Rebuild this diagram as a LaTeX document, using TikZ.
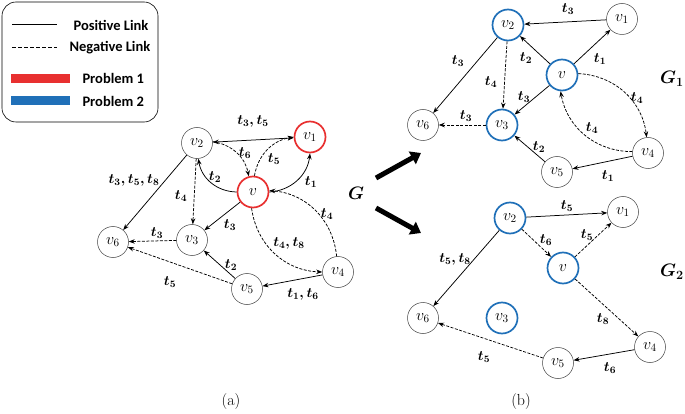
\RequirePackage{fix-cm}
\documentclass[tikz,border=0pt]{standalone}
\usepackage{fontspec}
\setsansfont{Carlito}
\usepackage{amsmath}
\usetikzlibrary{arrows.meta}
\definecolor{pred}{RGB}{232,48,48}
\definecolor{pblue}{RGB}{32,112,184}
\begin{document}
\begin{tikzpicture}[x=1pt,y=-1pt,
  vx/.style={circle,draw=black!75,line width=0.5pt,minimum size=31pt,inner sep=0pt,font=\fontsize{16}{18}\selectfont},
  vred/.style={vx,draw=pred,line width=1.7pt},
  vblue/.style={vx,draw=pblue,line width=1.7pt},
  plink/.style={line width=0.75pt,-{Stealth[length=6pt,width=4.5pt]}},
  nlink/.style={line width=0.75pt,dash pattern=on 3pt off 1.5pt,-{Stealth[length=6pt,width=4.5pt]}},
  lab/.style={font=\fontsize{14}{16}\selectfont\boldmath,inner sep=1pt},
  leg/.style={font=\sffamily\bfseries\fontsize{14.5}{16}\selectfont,anchor=west},
  big/.style={line width=5pt,-{Triangle[length=10pt,width=14pt]}}
]
\useasboundingbox (0,0) rectangle (685,414);
% legend
\draw[rounded corners=14pt,line width=0.6pt] (2,2) rectangle (158,122);
\coordinate (la1) at (12,25); \coordinate (lb1) at (57,25);
\draw[line width=1pt] (la1) -- (lb1);
\node[leg] (lt1) at (70,25) {Positive Link};
\coordinate (la2) at (12,48); \coordinate (lb2) at (57,48);
\draw[line width=1pt,dash pattern=on 4pt off 2pt] (la2) -- (lb2);
\node[leg] (lt2) at (66,48) {Negative Link};
\fill[pred] (11,74) rectangle (70,83);
\node[leg] (lt3) at (79,78) {Problem 1};
\fill[pblue] (11,96) rectangle (70,105);
\node[leg] (lt4) at (79,101) {Problem 2};

% panel (a)
\node[vx]   (a2) at (197,143) {$v_2$};
\node[vred] (a1) at (310,137) {$v_1$};
\node[vred] (av) at (253,192) {$v$};
\node[vx]   (a6) at (113,242) {$v_6$};
\node[vx]   (a3) at (192,240) {$v_3$};
\node[vx]   (a5) at (247,289) {$v_5$};
\node[vx]   (a4) at (338,272) {$v_4$};
\draw[line width=0.75pt,{Stealth[length=6pt,width=4.5pt]}-{Stealth[length=6pt,width=4.5pt]}] (a2) -- (a1);
\draw[nlink] (a2.5) to[bend left=35] (av.105);
\draw[nlink] (av.85) to[bend left=35] (a1.180);
\draw[plink] (av.0) to[bend right=40] (a1.270);
\draw[plink] (av.180) to[bend left=40] (a2.275);
\draw[nlink] (a2) -- (a3);
\draw[plink] (a2) -- (a6);
\draw[plink] (av) -- (a3);
\draw[nlink] (a3) -- (a6);
\draw[nlink] (av.265) to[bend right=40] (a4.180);
\draw[nlink] (a4.95) to[bend right=40] (av.5);
\draw[plink] (a5) -- (a3);
\draw[nlink] (a5) -- (a6);
\draw[plink] (a4) -- (a5);
\node[lab] (e1) at (253,121) {$t_3,t_5$};
\node[lab] (e2) at (245,153) {$t_6$};
\node[lab] (e3) at (274,159) {$t_5$};
\node[lab] (e4) at (311,182) {$t_1$};
\node[lab] (e5) at (215,177) {$t_2$};
\node[lab] (e6) at (181,196) {$t_4$};
\node[lab] (e7) at (134,180) {$t_3,t_5,t_8$};
\node[lab] (e8) at (230,225) {$t_3$};
\node[lab] (e9) at (157,233) {$t_3$};
\node[lab] (e10) at (289,243) {$t_4,t_8$};
\node[lab] (e11) at (327,214) {$t_4$};
\node[lab] (e12) at (231,265) {$t_2$};
\node[lab] (e13) at (170,282) {$t_5$};
\node[lab] (e14) at (303,294) {$t_1,t_6$};

% G and arrows
\node[lab,font=\fontsize{18}{20}\selectfont\boldmath] (G) at (356,193) {$G$};
\coordinate (ua) at (376,178); \coordinate (ub) at (421,153);
\coordinate (da) at (376,208); \coordinate (db) at (421,233);
\draw[big] (ua) -- (ub);
\draw[big] (da) -- (db);

% G1
\node[vblue] (b2) at (508,25) {$v_2$};
\node[vx]    (b1) at (622,19) {$v_1$};
\node[vblue] (bv) at (562,75) {$v$};
\node[vx]    (b6) at (423,125) {$v_6$};
\node[vblue] (b3) at (502,125) {$v_3$};
\node[vx]    (b4) at (648,153) {$v_4$};
\node[vx]    (b5) at (557,172) {$v_5$};
\draw[plink] (b1) -- (b2);
\draw[plink] (bv) -- (b2);
\draw[plink] (bv) -- (b1);
\draw[plink] (b2) -- (b6);
\draw[nlink] (b2) -- (b3);
\draw[plink] (bv) -- (b3);
\draw[nlink] (b3) -- (b6);
\draw[nlink] (bv.5) to[bend left=40] (b4.95);
\draw[nlink] (b4.175) to[bend left=40] (bv.265);
\draw[plink] (b5) -- (b3);
\draw[plink] (b4) -- (b5);
\node[lab] (f1) at (568,9) {$t_3$};
\node[lab] (f2) at (526,58) {$t_2$};
\node[lab] (f3) at (600,59) {$t_1$};
\node[lab] (f4) at (458,61) {$t_3$};
\node[lab] (f5) at (491,82) {$t_4$};
\node[lab] (f6) at (524,97) {$t_3$};
\node[lab] (f7) at (466,116) {$t_3$};
\node[lab] (f8) at (637,98) {$t_4$};
\node[lab] (f9) at (592,128) {$t_4$};
\node[lab] (f10) at (539,147) {$t_2$};
\node[lab] (f11) at (608,176) {$t_1$};
\node[lab,font=\fontsize{18}{20}\selectfont\boldmath] (G1) at (672,79) {$G_1$};

% G2
\node[vblue] (c2) at (510,218) {$v_2$};
\node[vx]    (c1) at (623,212) {$v_1$};
\node[vblue] (cv) at (563,268) {$v$};
\node[vx]    (c6) at (423,318) {$v_6$};
\node[vblue] (c3) at (502,318) {$v_3$};
\node[vx]    (c4) at (650,347) {$v_4$};
\node[vx]    (c5) at (558,363) {$v_5$};
\draw[plink] (c2) -- (c1);
\draw[nlink] (c2) -- (cv);
\draw[nlink] (cv) -- (c1);
\draw[plink] (c2) -- (c6);
\draw[nlink] (cv) -- (c4);
\draw[plink] (c4) -- (c5);
\draw[nlink] (c5) -- (c6);
\node[lab] (g1) at (567,206) {$t_5$};
\node[lab] (g2) at (546,240) {$t_6$};
\node[lab] (g3) at (587,235) {$t_5$};
\node[lab] (g4) at (455,259) {$t_5,t_8$};
\node[lab] (g5) at (603,319) {$t_8$};
\node[lab] (g6) at (610,368) {$t_6$};
\node[lab] (g7) at (484,357) {$t_5$};
\node[lab,font=\fontsize{18}{20}\selectfont\boldmath] (G2) at (672,272) {$G_2$};

% captions
\node[font=\fontsize{16}{18}\selectfont] (ca) at (231,402) {(a)};
\node[font=\fontsize{16}{18}\selectfont] (cb) at (521,402) {(b)};
\end{tikzpicture}
\end{document}
